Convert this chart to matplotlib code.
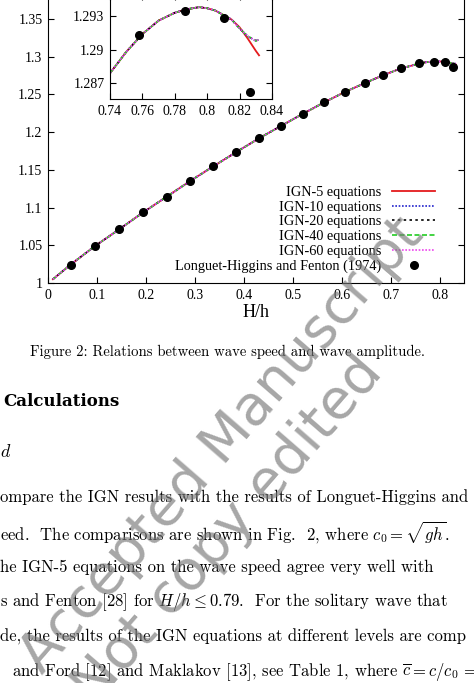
import matplotlib
matplotlib.use("Agg")
import matplotlib.pyplot as plt

# Longuet-Higgins and Fenton (1974) points
lhf_x = [0.046, 0.095, 0.145, 0.194, 0.242, 0.290, 0.337, 0.384, 0.430, 0.476,
         0.520, 0.563, 0.605, 0.646, 0.684, 0.720, 0.7577, 0.7866, 0.8103, 0.8266]
lhf_y = [1.0243, 1.0486, 1.0711, 1.0936, 1.1144, 1.1352, 1.1546, 1.1736, 1.1917, 1.2085,
         1.2244, 1.2394, 1.2531, 1.2650, 1.2756, 1.2845, 1.2913, 1.2935, 1.2928, 1.2862]

# IGN curves
curve_x = [0.01, 0.046, 0.095, 0.145, 0.194, 0.242, 0.290, 0.337, 0.384, 0.430, 0.476,
           0.520, 0.563, 0.605, 0.646, 0.684, 0.720, 0.74, 0.75, 0.76, 0.77, 0.78, 0.787,
           0.795, 0.80, 0.805, 0.81, 0.815, 0.82, 0.825, 0.83, 0.832]
common_y = [1.005, 1.0243, 1.0486, 1.0711, 1.0936, 1.1144, 1.1352, 1.1546, 1.1736, 1.1917, 1.2085,
            1.2244, 1.2394, 1.2531, 1.2650, 1.2756, 1.2845, 1.2879, 1.2898, 1.2914, 1.2926, 1.2933, 1.2936,
            1.2938, 1.2937, 1.2935, 1.2931, 1.2927]
ign5_y = common_y + [1.2920, 1.2910, 1.2899, 1.2895]
ign10_y = common_y + [1.2919, 1.2912, 1.2908, 1.2909]
ign20_y = ign10_y
ign40_y = ign10_y
ign60_y = ign10_y

series = [
    ("IGN-5 equations", ign5_y, dict(color="#e41a1c", ls="-", lw=1.3)),
    ("IGN-10 equations", ign10_y, dict(color="#2222cc", ls=(0, (1, 1)), lw=1.2)),
    ("IGN-20 equations", ign20_y, dict(color="black", ls=(0, (1.5, 2)), lw=1.2)),
    ("IGN-40 equations", ign40_y, dict(color="#22cc22", ls=(0, (3, 1.5)), lw=1.2)),
    ("IGN-60 equations", ign60_y, dict(color="#ee44ee", ls=(0, (1, 1)), lw=1.2)),
]

main_xticks = [0, 0.1, 0.2, 0.3, 0.4, 0.5, 0.6, 0.7, 0.8]
main_xlabels = ["0", "0.1", "0.2", "0.3", "0.4", "0.5", "0.6", "0.7", "0.8"]
main_yticks = [1, 1.05, 1.1, 1.15, 1.2, 1.25, 1.3, 1.35]
main_ylabels = ["1", "1.05", "1.1", "1.15", "1.2", "1.25", "1.3", "1.35"]
ins_xticks = [0.74, 0.76, 0.78, 0.8, 0.82, 0.84]
ins_xlabels = ["0.74", "0.76", "0.78", "0.8", "0.82", "0.84"]
ins_yticks = [1.287, 1.29, 1.293]
ins_ylabels = ["1.287", "1.29", "1.293"]

plt.rcParams["mathtext.fontset"] = "cm"
serif = "Liberation Serif"
fig = plt.figure(figsize=(4.74, 6.83), dpi=100)

def style(ax, fs):
    ax.tick_params(direction="in", top=True, right=True, length=4, labelsize=fs, pad=4)
    for lab in ax.get_xticklabels() + ax.get_yticklabels():
        lab.set_family(serif)

ax = fig.add_axes([48/474, 1 - 283/683, (464-48)/474, (283+18.7)/683])
for lab, ys, kw in series:
    ax.plot(curve_x, ys, label=lab, **kw)
ax.plot(lhf_x, lhf_y, "o", color="black", ms=5.5, ls="none", label="Longuet-Higgins and Fenton (1974)")
ax.set_xlim(0, 0.8485)
ax.set_ylim(1, 1.4)
ax.set_xticks(main_xticks, main_xlabels)
ax.set_yticks(main_yticks, main_ylabels)
style(ax, 10)
ax.set_xlabel("H/h", family=serif, fontsize=13, labelpad=2)
leg = ax.legend(loc="lower right", markerfirst=False, frameon=False, prop={"family": serif, "size": 10.3},
                handlelength=3.0, labelspacing=0.12, borderaxespad=0.3, handletextpad=0.8,
                bbox_to_anchor=(0.955, 0.0))

ins = fig.add_axes([110/474, 1 - 99/683, (272-110)/474, (99+6.3)/683])
for lab, ys, kw in series:
    ins.plot(curve_x, ys, **kw)
ins.plot(lhf_x, lhf_y, "o", color="black", ms=5.5, ls="none")
ins.set_xlim(0.74, 0.84)
ins.set_ylim(1.2856, 1.295)
ins.set_xticks(ins_xticks, ins_xlabels)
ins.set_yticks(ins_yticks, ins_ylabels)
style(ins, 10)

# paper text
cm = "cmr10"
fig.text(30/474, 1 - 352/683, "Figure 2: Relations between wave speed and wave amplitude.",
         family=cm, fontsize=10.6, va="center")
fig.text(3/474, 1 - 401/683, "Calculations", family="DejaVu Serif", fontweight="bold", fontsize=12, va="center")
fig.text(0, 1 - 452/683, r"$d$", fontsize=13, va="center")
lines = [
    "ompare the IGN results with the results of Longuet-Higgins and",
    r"eed.  The comparisons are shown in Fig.  2, where $c_0 = \sqrt{gh}$.",
    "he IGN-5 equations on the wave speed agree very well with",
    r"s and Fenton [28] for $H/h \leq 0.79$.  For the solitary wave that",
    "de, the results of the IGN equations at different levels are comp",
    r"and Ford [12] and Maklakov [13], see Table 1, where $\overline{c} = c/c_0$ =",
]
ys = [497, 532, 567, 602, 637, 672]
xs = [0, 0, 0, 0, 0, 12]
for t, y, x in zip(lines, ys, xs):
    fig.text(x/474, 1 - y/683, t, family=cm, fontsize=12, va="center")

# watermark
fig.text(222/474, 1 - 445/683, "Accepted Manuscript", fontsize=40, rotation=49, color="#777777",
         alpha=0.65, ha="center", va="center", family="DejaVu Sans")
fig.text(228/474, 1 - 530/683, "Not copy edited", fontsize=40, rotation=49, color="#777777",
         alpha=0.65, ha="center", va="center", family="DejaVu Sans")

fig.savefig("out.png", dpi=100)
